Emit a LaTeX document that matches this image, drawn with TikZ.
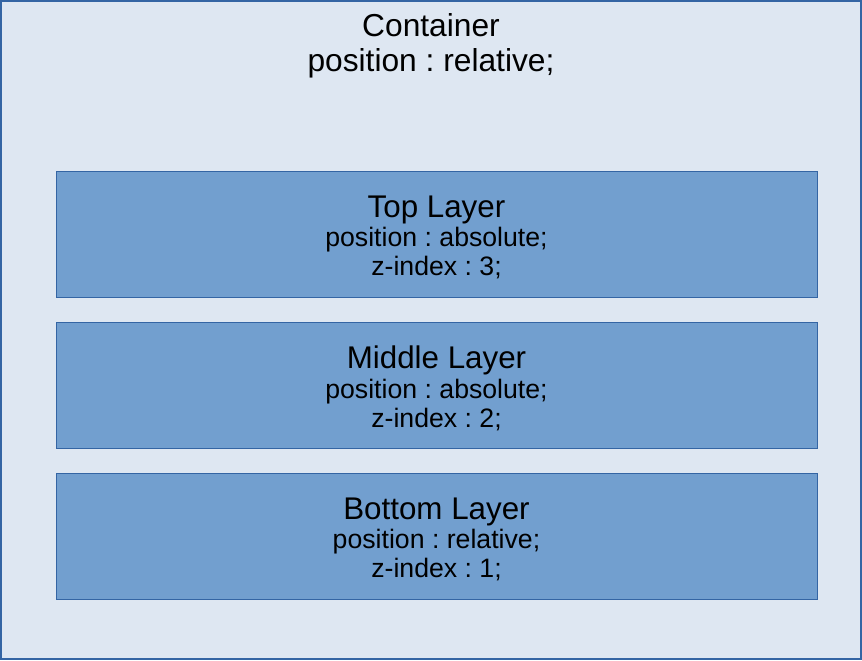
\documentclass[tikz,border=0pt]{standalone}
\usepackage{fontspec}
\setmainfont{Liberation Sans}
\frenchspacing
\definecolor{boxedge}{HTML}{3465A4}
\definecolor{outerfill}{HTML}{DEE7F2}
\definecolor{layerfill}{HTML}{729FCF}
\tikzset{
container/.style={draw=boxedge, fill=outerfill, line width=1pt, minimum width=645pt, minimum height=493.5pt, inner sep=0pt},
layer/.style={draw=boxedge, fill=layerfill, line width=0.75pt, minimum width=570.75pt, minimum height=94.5pt, inner sep=0pt},
label/.style={align=center, font=\fontsize{20}{22}\selectfont, inner sep=0pt}
}
\newcommand{\layertitle}[1]{{\fontsize{23.5}{25}\selectfont #1}}
\begin{document}
\begin{tikzpicture}[x=0.75pt, y=-0.75pt]
\useasboundingbox (0,0) rectangle (862,660);
\node[container] (cont) at (431,330) {};
\node[label, font=\fontsize{23.8}{26}\selectfont] (conttext) at (431,45.5) {Container\\position : relative;};
% the three layers
\node[layer] (top) at (436.5,234) {};
\node[layer] (mid) at (436.5,385) {};
\node[layer] (bot) at (436.5,536) {};
\node[label] (toptext) at (436.5,237.5) {\layertitle{Top Layer}\\position : absolute;\\z-index : 3;};
\node[label] (midtext) at (436.5,388.5) {\layertitle{Middle Layer}\\position : absolute;\\z-index : 2;};
\node[label] (bottext) at (436.5,539.5) {\layertitle{Bottom Layer}\\position : relative;\\z-index : 1;};
\end{tikzpicture}
\end{document}
